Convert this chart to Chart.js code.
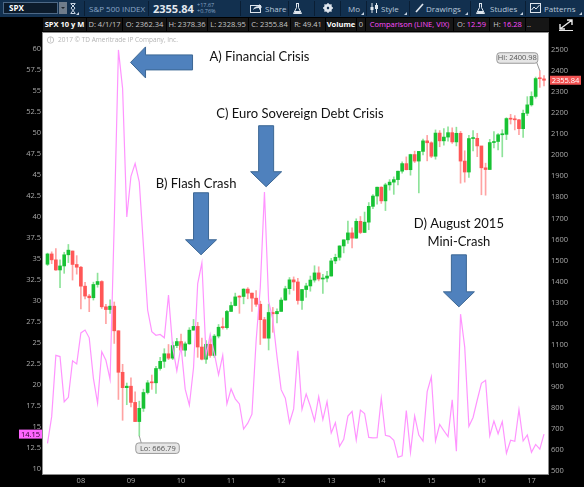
<!DOCTYPE html>
<html>
<head>
<meta charset="utf-8">
<script src="https://cdn.jsdelivr.net/npm/chart.js@4.4.1/dist/chart.umd.min.js"></script>
<style>
  html, body { margin: 0; padding: 0; background: #000; }
  body { width: 584px; height: 487px; position: relative; overflow: hidden; font-family: "Open Sans", sans-serif; }
  #toolbar { position: absolute; left: 0; top: 0; width: 584px; height: 17px; background: #12304f; color: #b9c8da; font-size: 8px; }
  #toolbar .t { position: absolute; top: 0; line-height: 17px; white-space: nowrap; }
  #toolbar .div { position: absolute; top: 1px; width: 1px; height: 15px; background: #0a1e34; }
  #toolbar .tri { position: absolute; top: 12px; width: 0; height: 0; border-left: 3px solid transparent; border-bottom: 3px solid #c8d4e2; }
  #toolbar svg { position: absolute; top: 3px; }
  #symbol { position: absolute; left: 3px; top: 2px; width: 55px; height: 12px; background: #0c1b2b; border: 1px solid #4d6885; box-sizing: border-box; color: #fff; font-weight: bold; font-size: 8px; line-height: 10px; padding-left: 5px; }
  #drop { position: absolute; left: 59px; top: 2px; width: 8px; height: 12px; background: #6f7c8b; }
  #drop:after { content: ""; position: absolute; left: 2px; top: 5px; border-left: 2px solid transparent; border-right: 2px solid transparent; border-top: 2px solid #20262e; }
  #info { position: absolute; left: 43px; top: 17px; width: 505px; height: 15px; background: #000; font-size: 7.5px; color: #c6c6c6; }
  #info .c { position: absolute; top: 1px; height: 13px; line-height: 13px; background: #161616; text-align: center; white-space: nowrap; overflow: hidden; }
  #info .b { color: #fff; font-weight: bold; }
  #info .m { color: #ff4cff; }
  #icon { position: absolute; left: 548px; top: 17px; width: 36px; height: 15px; }
  #wrap { position: absolute; left: 0; top: 32px; width: 584px; height: 455px; }
</style>
</head>
<body>
<div id="toolbar">
  <div id="symbol">SPX</div><div id="drop"></div>
  <svg style="left:70px" width="6" height="11" viewBox="0 0 6 11"><path d="M0.5 0.5h5M0.5 10.5h5M1 1 L5 5 L1 10 M5 1 L1 5 L5 10" stroke="#c8d4e2" fill="none" stroke-width="1"/></svg>
  <div class="tri" style="left:76px"></div>
  <div class="div" style="left:84px"></div>
  <span class="t" style="left:89px;color:#8aa6c6">S&amp;P 500 INDEX</span>
  <div class="div" style="left:148px"></div>
  <span class="t" style="left:153px;color:#e2e8f0;font-weight:bold;font-size:11px">2355.84</span>
  <span class="t" style="left:197px;top:2px;line-height:6px;font-size:5.5px;color:#8aa6c6">+17.67<br>+0.76%</span>
  <div class="div" style="left:240px"></div>
  <svg style="left:250px" width="12" height="10" viewBox="0 0 12 10"><rect x="0.5" y="2.5" width="10" height="7" fill="none" stroke="#dfe6ee"/><path d="M3 7 Q4 3 9 3 L9 1 L12 4 L9 7 L9 5 Q5 5 3 7Z" fill="#dfe6ee"/></svg>
  <span class="t" style="left:265px">Share</span>
  <div class="div" style="left:288px"></div>
  <svg style="left:293px" width="9" height="11" viewBox="0 0 9 11"><path d="M3 0.5h3M3.5 0.5v4L0.5 10.5h8L5.5 4.5v-4" fill="none" stroke="#dfe6ee"/><path d="M2 8h5l1 2.5h-7z" fill="#dfe6ee"/></svg>
  <div class="div" style="left:314px"></div>
  <svg style="left:323px" width="10" height="10" viewBox="0 0 10 10"><circle cx="5" cy="5" r="3" fill="none" stroke="#dfe6ee" stroke-width="2"/><path d="M5 0v10M0 5h10M1.5 1.5l7 7M8.5 1.5l-7 7" stroke="#dfe6ee" stroke-width="1.3"/><circle cx="5" cy="5" r="1.2" fill="#12304f"/></svg>
  <div class="div" style="left:340px"></div>
  <span class="t" style="left:348px">Mo</span>
  <div class="tri" style="left:361px"></div>
  <div class="div" style="left:366px"></div>
  <svg style="left:370px" width="9" height="10" viewBox="0 0 9 10"><path d="M2 0v10M6.5 0v10" stroke="#dfe6ee"/><rect x="0.5" y="4" width="3" height="3" fill="#dfe6ee"/><rect x="5" y="2" width="3" height="4" fill="#dfe6ee"/></svg>
  <span class="t" style="left:381px">Style</span>
  <div class="tri" style="left:404px"></div>
  <div class="div" style="left:409px"></div>
  <svg style="left:415px" width="9" height="10" viewBox="0 0 9 10"><path d="M1 9 L8 1" stroke="#dfe6ee" stroke-width="1.6"/></svg>
  <span class="t" style="left:426px">Drawings</span>
  <div class="tri" style="left:465px"></div>
  <div class="div" style="left:470px"></div>
  <svg style="left:476px" width="9" height="11" viewBox="0 0 9 11"><path d="M3 0.5h3M3.5 0.5v4L0.5 10.5h8L5.5 4.5v-4" fill="none" stroke="#dfe6ee"/><path d="M2 8h5l1 2.5h-7z" fill="#dfe6ee"/></svg>
  <span class="t" style="left:490px">Studies</span>
  <div class="tri" style="left:520px"></div>
  <div class="div" style="left:525px"></div>
  <svg style="left:530px" width="11" height="10" viewBox="0 0 11 10"><rect x="0.5" y="0.5" width="10" height="9" fill="none" stroke="#dfe6ee"/><path d="M1.5 7 L4 4 L6 6 L9.5 2" fill="none" stroke="#dfe6ee"/></svg>
  <span class="t" style="left:544px">Patterns</span>
  <div class="tri" style="left:579px"></div>
</div>
<div id="info">
  <span class="c b" style="left:0;width:43px">SPX 10 y M</span>
  <span class="c" style="left:44px;width:35px">D: 4/1/17</span>
  <span class="c" style="left:80px;width:43px">O: 2362.34</span>
  <span class="c" style="left:124px;width:40px">H: 2378.36</span>
  <span class="c" style="left:165px;width:40px">L: 2328.95</span>
  <span class="c" style="left:206px;width:41px">C: 2355.84</span>
  <span class="c" style="left:248px;width:34px">R: 49.41</span>
  <span class="c b" style="left:283px;width:30px">Volume</span>
  <span class="c" style="left:314px;width:8px">0</span>
  <span class="c m" style="left:323px;width:87px">Comparison (LINE, VIX)</span>
  <span class="c" style="left:411px;width:35px">O: <span class="m">12.59</span></span>
  <span class="c" style="left:447px;width:35px">H: <span class="m">16.28</span></span>
  <span class="c" style="left:483px;width:22px;text-align:left;padding-left:1px">..</span>
</div>
<svg id="icon" viewBox="0 0 36 15"><path d="M12 12 L24 3 M19 3 H24 V8 M12 7 V12 H17" fill="none" stroke="#e8e8e8" stroke-width="1.4"/><path d="M11 13.5 H25" stroke="#e8e8e8"/></svg>
<div id="wrap"><canvas id="chart" width="584" height="455"></canvas></div>

<script>
// ---- data: SPX monthly candles, May 2007 .. Apr 2017, and VIX monthly closes ----
const startYear = 2007;
const startMonth = 5; // May

const opens = [
  1482, 1531, 1503, 1455, 1474, 1527, 1545, 1481,
  1468, 1378, 1331, 1323, 1386, 1400, 1280, 1267, 1283, 1166, 969, 896,
  903, 826, 735, 798, 873, 923, 919, 987, 1021, 1057, 1036, 1096,
  1115, 1074, 1104, 1169, 1187, 1089, 1031, 1102, 1049, 1141, 1183, 1181,
  1258, 1286, 1328, 1329, 1364, 1345, 1321, 1292, 1219, 1131, 1253, 1247,
  1258, 1312, 1366, 1408, 1398, 1310, 1362, 1379, 1407, 1441, 1412, 1416,
  1426, 1498, 1515, 1569, 1598, 1631, 1606, 1686, 1633, 1682, 1757, 1806,
  1848, 1783, 1859, 1872, 1884, 1924, 1960, 1931, 2003, 1972, 2018, 2068,
  2059, 1995, 2105, 2068, 2086, 2107, 2063, 2104, 1972, 1920, 2079, 2080,
  2044, 1940, 1932, 2060, 2065, 2097, 2099, 2174, 2171, 2168, 2126, 2199,
  2239, 2279, 2364, 2362.34
];
const highs = [
  1535, 1541, 1556, 1503, 1539, 1576, 1545, 1523,
  1472, 1396, 1339, 1397, 1440, 1404, 1292, 1313, 1303, 1167, 1007, 918,
  943, 876, 832, 889, 930, 956, 997, 1040, 1081, 1101, 1113, 1130,
  1151, 1113, 1181, 1220, 1206, 1132, 1120, 1129, 1149, 1196, 1227, 1263,
  1303, 1345, 1333, 1366, 1371, 1345, 1357, 1307, 1230, 1293, 1277, 1270,
  1323, 1378, 1419, 1422, 1415, 1363, 1392, 1426, 1475, 1470, 1434, 1448,
  1510, 1530, 1570, 1598, 1687, 1655, 1698, 1709, 1730, 1775, 1813, 1849,
  1850, 1867, 1884, 1897, 1924, 1968, 1992, 2005, 2019, 2018, 2076, 2094,
  2064, 2120, 2117, 2126, 2135, 2130, 2133, 2113, 2021, 2094, 2117, 2104,
  2039, 1962, 2075, 2112, 2103, 2121, 2178, 2194, 2188, 2170, 2214, 2278,
  2301, 2371, 2400.98, 2378.36
];
const lows = [
  1476, 1485, 1453, 1371, 1439, 1490, 1407, 1435,
  1270, 1317, 1257, 1312, 1373, 1272, 1200, 1248, 1106, 840, 741, 815,
  804, 735, 666.79, 783, 866, 888, 869, 979, 992, 1029, 1029, 1086,
  1071, 1045, 1102, 1170, 1040, 1028, 1011, 1040, 1040, 1132, 1174, 1174,
  1257, 1284, 1249, 1294, 1318, 1258, 1282, 1101, 1136, 1075, 1159, 1203,
  1258, 1311, 1340, 1358, 1292, 1267, 1325, 1354, 1397, 1403, 1343, 1398,
  1426, 1485, 1501, 1536, 1581, 1560, 1605, 1627, 1633, 1646, 1746, 1767,
  1771, 1737, 1834, 1814, 1859, 1915, 1930, 1905, 1965, 1821, 2001, 1973,
  1988, 1981, 2040, 2048, 2067, 2056, 2044, 1867, 1872, 1894, 2020, 1993,
  1812, 1810, 1932, 2034, 2025, 1992, 2074, 2148, 2120, 2098, 2084, 2188,
  2233, 2271, 2322, 2328.95
];
const closes = [
  1531, 1503, 1455, 1474, 1527, 1549, 1481, 1468,
  1378, 1331, 1323, 1386, 1400, 1280, 1267, 1283, 1166, 969, 896, 903,
  826, 735, 798, 873, 919, 919, 987, 1021, 1057, 1036, 1096, 1115,
  1074, 1104, 1169, 1187, 1089, 1031, 1102, 1049, 1141, 1183, 1181, 1258,
  1286, 1327, 1326, 1364, 1345, 1321, 1292, 1219, 1131, 1253, 1247, 1258,
  1312, 1366, 1408, 1398, 1310, 1362, 1379, 1407, 1441, 1412, 1416, 1426,
  1498, 1515, 1569, 1598, 1631, 1606, 1686, 1633, 1682, 1757, 1806, 1848,
  1783, 1859, 1872, 1884, 1924, 1960, 1931, 2003, 1972, 2018, 2068, 2059,
  1995, 2105, 2068, 2086, 2107, 2063, 2104, 1972, 1920, 2079, 2080, 2044,
  1940, 1932, 2060, 2065, 2097, 2099, 2174, 2171, 2168, 2126, 2199, 2239,
  2279, 2364, 2363, 2355.84
];
const vixCloses = [
  13.05, 16.23, 23.52, 23.38, 18.00, 18.53, 22.87, 22.50,
  26.20, 26.54, 25.61, 20.79, 17.83, 23.95, 22.94, 20.65, 39.39, 59.89, 55.28, 40.00,
  44.84, 46.35, 44.14, 36.50, 28.92, 26.35, 25.92, 26.01, 25.61, 30.69, 24.51, 21.68,
  24.62, 19.50, 17.59, 22.05, 32.07, 34.54, 23.50, 26.05, 23.70, 21.20, 23.54, 17.75,
  19.53, 18.35, 17.74, 14.75, 15.45, 16.52, 25.25, 31.62, 42.96, 29.96, 27.80, 23.40,
  19.44, 18.43, 15.50, 17.15, 24.06, 17.08, 18.93, 17.47, 15.73, 18.60, 15.87, 18.02,
  14.28, 15.51, 12.70, 13.52, 16.30, 16.86, 13.45, 17.01, 16.60, 13.75, 13.70, 13.72,
  18.41, 14.00, 13.88, 13.41, 11.40, 11.57, 16.95, 11.98, 16.31, 14.03, 13.33, 19.20,
  20.97, 13.34, 15.29, 14.55, 13.84, 18.23, 12.12, 28.43, 24.50, 15.07, 16.13, 18.21,
  20.20, 20.55, 13.95, 15.70, 14.19, 15.63, 11.87, 13.42, 13.29, 17.06, 13.33, 14.04,
  11.99, 12.92, 12.37, 14.15
];
const vixTicks = [10, 12.5, 15, 17.5, 20, 22.5, 25, 27.5, 30, 32.5, 35, 37.5, 40, 42.5, 45, 47.5, 50, 52.5, 55, 57.5, 60];
const spxTicks = [500, 600, 700, 800, 900, 1000, 1100, 1200, 1300, 1400, 1500, 1600, 1700, 1800, 1900, 2000, 2100, 2200, 2300, 2400, 2500];
const yearLabels = ['08', '09', '10', '11', '12', '13', '14', '15', '16', '17'];

// annotation texts, anchored in (month index, VIX value) space
const notes = [
  { lines: ['A) Financial Crisis'], textAt: [50.8, 59.1], tipAt: [19.9, 58.4], dir: 'left', shaft: 47 },
  { lines: ['B) Flash Crash'], textAt: [35.6, 44.0], tipAt: [36.8, 35.5], dir: 'down', shaft: 47 },
  { lines: ['C) Euro Sovereign Debt Crisis'], textAt: [60.5, 52.3], tipAt: [52.4, 43.6], dir: 'down', shaft: 46 },
  { lines: ['D) August 2015', 'Mini-Crash'], textAt: [98.6, 38.1], tipAt: [98.6, 29.3], dir: 'down', shaft: 37 }
];

// ---- derived ----
const idx = closes.map((c, i) => i);
const isUp = closes.map((c, i) => c >= opens[i]);
const janIndex = yearLabels.map((y, k) => (2000 + Number(y) - startYear) * 12 - (startMonth - 1));

const tickFont = { family: 'Open Sans', size: 7.5 };
const tickColor = '#a9a9a9';

function fixWidth(w) {
  return function (axis) { axis.width = w; axis.paddingTop = 0; axis.paddingBottom = 0; };
}

function roundRect(ctx, x, y, w, h, r) {
  ctx.beginPath();
  ctx.moveTo(x + r, y);
  ctx.arcTo(x + w, y, x + w, y + h, r);
  ctx.arcTo(x + w, y + h, x, y + h, r);
  ctx.arcTo(x, y + h, x, y, r);
  ctx.arcTo(x, y, x + w, y, r);
  ctx.closePath();
}

function drawArrow(ctx, x, y, dir, len) {
  const sw = 15, hw = 31, hl = 15;
  ctx.save();
  ctx.translate(x, y);
  if (dir === 'left') ctx.rotate(Math.PI / 2);
  ctx.beginPath();
  ctx.moveTo(0, 0);
  ctx.lineTo(hw / 2, -hl);
  ctx.lineTo(sw / 2, -hl);
  ctx.lineTo(sw / 2, -hl - len);
  ctx.lineTo(-sw / 2, -hl - len);
  ctx.lineTo(-sw / 2, -hl);
  ctx.lineTo(-hw / 2, -hl);
  ctx.closePath();
  ctx.fillStyle = '#4f81bd';
  ctx.fill();
  ctx.strokeStyle = '#3c6794';
  ctx.lineWidth = 1;
  ctx.stroke();
  ctx.restore();
}

// white plot panel with a thin grey frame
const panel = {
  id: 'panel',
  beforeDraw(chart) {
    const { ctx, chartArea: a } = chart;
    ctx.save();
    ctx.fillStyle = '#fff';
    ctx.fillRect(a.left, a.top, a.right - a.left, a.bottom - a.top);
    ctx.strokeStyle = '#8c8c8c';
    ctx.lineWidth = 1;
    ctx.strokeRect(a.left - 0.5, a.top + 0.5, a.right - a.left + 1, a.bottom - a.top);
    ctx.fillStyle = '#b4b4b4';
    ctx.font = '6.5px "Open Sans"';
    ctx.textBaseline = 'middle';
    ctx.beginPath();
    ctx.arc(a.left + 7.5, a.top + 8, 3.2, 0, Math.PI * 2);
    ctx.strokeStyle = '#c4c4c4';
    ctx.stroke();
    ctx.fillText('i', a.left + 6.8, a.top + 8);
    ctx.fillText('2017 \u00a9 TD Ameritrade IP Company, Inc.', a.left + 15, a.top + 8);
    ctx.restore();
  }
};

// price tags, Hi/Lo bubbles and the crisis arrows
const overlay = {
  id: 'overlay',
  afterDraw(chart) {
    const { ctx, scales } = chart;
    const x = scales.x, ys = scales.ySpx, yv = scales.yVix;
    ctx.save();

    // Hi / Lo bubbles
    const hiI = highs.indexOf(Math.max(...highs));
    const loI = lows.indexOf(Math.min(...lows));
    ctx.font = '7.5px "Open Sans"';
    ctx.textAlign = 'center';
    ctx.textBaseline = 'middle';
    const hx = x.getPixelForValue(hiI), hy = ys.getPixelForValue(highs[hiI]);
    ctx.strokeStyle = '#9a9a9a';
    ctx.beginPath(); ctx.moveTo(hx, hy); ctx.lineTo(hx - 3, hy - 8); ctx.stroke();
    roundRect(ctx, hx - 43, hy - 18, 41, 10.5, 3);
    ctx.fillStyle = '#e6e6e6'; ctx.fill(); ctx.stroke();
    ctx.fillStyle = '#555';
    ctx.fillText('Hi: ' + highs[hiI].toFixed(2), hx - 22.5, hy - 12.5);

    const lx = x.getPixelForValue(loI), ly = ys.getPixelForValue(lows[loI]);
    ctx.beginPath(); ctx.moveTo(lx, ly); ctx.lineTo(lx + 2, ly + 7); ctx.stroke();
    roundRect(ctx, lx - 3.5, ly + 7, 43.5, 10.5, 3);
    ctx.fillStyle = '#e6e6e6'; ctx.fill(); ctx.stroke();
    ctx.fillStyle = '#555';
    ctx.fillText('Lo: ' + lows[loI].toFixed(2), lx + 18.5, ly + 12.5);

    // last value tags on both axes
    const last = closes.length - 1;
    const cy = ys.getPixelForValue(closes[last]);
    ctx.fillStyle = '#f25454';
    ctx.fillRect(ys.left + 2, cy - 4.5, 31, 9);
    ctx.fillStyle = '#fff';
    ctx.fillText(closes[last].toFixed(2), ys.left + 17.5, cy + 0.5);
    const vy = yv.getPixelForValue(vixCloses[last]);
    ctx.fillStyle = '#ff66ff';
    ctx.fillRect(yv.right - 24, vy - 4.5, 23, 9);
    ctx.fillStyle = '#2a002a';
    ctx.fillText(vixCloses[last].toFixed(2), yv.right - 12.5, vy + 0.5);

    // annotations
    ctx.font = '13px Lato';
    ctx.fillStyle = '#111';
    notes.forEach(n => {
      drawArrow(ctx, x.getPixelForValue(n.tipAt[0]), yv.getPixelForValue(n.tipAt[1]), n.dir, n.shaft);
      const tx = x.getPixelForValue(n.textAt[0]);
      const ty = yv.getPixelForValue(n.textAt[1]);
      n.lines.forEach((s, k) => {
        ctx.fillText(s, tx, ty + (k - (n.lines.length - 1) / 2) * 18);
      });
    });
    ctx.restore();
  }
};

new Chart(document.getElementById('chart'), {
  type: 'bar',
  data: {
    datasets: [
      {
        type: 'line',
        label: 'VIX',
        data: idx.map(i => ({ x: i, y: vixCloses[i] })),
        yAxisID: 'yVix',
        borderColor: '#ff94ff',
        borderWidth: 1.2,
        pointRadius: 0,
        tension: 0,
        order: 1
      },
      {
        label: 'SPX body',
        data: idx.map(i => ({ x: i, y: [opens[i], closes[i]] })),
        yAxisID: 'ySpx',
        backgroundColor: isUp.map(u => u ? '#17c233' : '#ff5656'),
        barThickness: 3,
        minBarLength: 1,
        grouped: false,
        order: 2
      },
      {
        label: 'SPX wick',
        data: idx.map(i => ({ x: i, y: [lows[i], highs[i]] })),
        yAxisID: 'ySpx',
        backgroundColor: isUp.map(u => u ? '#8ee39a' : '#ffa3a3'),
        barThickness: 1,
        grouped: false,
        order: 3
      }
    ]
  },
  options: {
    responsive: false,
    animation: false,
    layout: { padding: 0 },
    plugins: { legend: { display: false }, tooltip: { enabled: false } },
    scales: {
      x: {
        type: 'linear',
        min: -1.08,
        max: 119.96,
        offset: false,
        grid: { display: false, drawTicks: false },
        border: { display: false },
        afterBuildTicks: axis => { axis.ticks = janIndex.map(v => ({ value: v })); },
        afterFit: axis => { axis.height = 13; axis.paddingLeft = 0; axis.paddingRight = 0; },
        ticks: {
          autoSkip: false, maxRotation: 0, padding: 2,
          color: tickColor, font: tickFont,
          callback: (v, i) => yearLabels[i]
        }
      },
      yVix: {
        type: 'linear',
        position: 'left',
        min: 9.4,
        max: 62.02,
        grid: { display: false, drawTicks: false },
        border: { display: false },
        afterBuildTicks: axis => { axis.ticks = vixTicks.map(v => ({ value: v })); },
        afterFit: fixWidth(43),
        ticks: { padding: 2, color: tickColor, font: tickFont, callback: v => String(v) }
      },
      ySpx: {
        type: 'linear',
        position: 'right',
        min: 486,
        max: 2585,
        grid: { display: false, drawTicks: false },
        border: { display: false },
        afterBuildTicks: axis => { axis.ticks = spxTicks.map(v => ({ value: v })); },
        afterFit: fixWidth(36),
        ticks: { padding: 3, color: tickColor, font: tickFont, callback: v => String(v) }
      }
    }
  },
  plugins: [panel, overlay]
});
</script>
</body>
</html>
